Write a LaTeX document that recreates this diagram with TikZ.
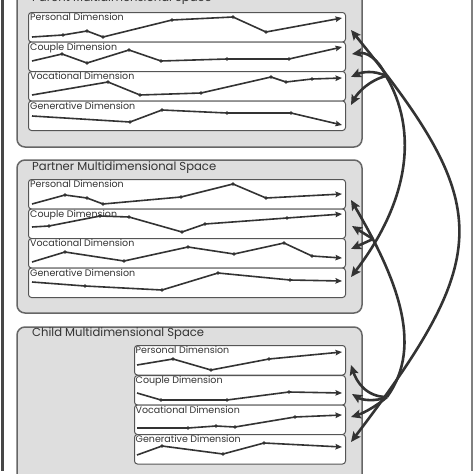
\documentclass[tikz,border=0pt]{standalone}
\usepackage{fontspec}
\setmainfont{Poppins}
\usetikzlibrary{arrows.meta}
\definecolor{ink}{HTML}{333333}
\definecolor{spacefill}{HTML}{DEDEDE}
\definecolor{spaceline}{HTML}{666666}
\definecolor{stripline}{HTML}{555555}
\tikzset{
  space/.style={draw=spaceline,fill=spacefill,line width=1.5pt,rounded corners=8pt},
  strip/.style={draw=stripline,fill=white,line width=1pt,rounded corners=3pt,
    minimum height=29.5pt,inner sep=0pt,anchor=north west},
  wide/.style={strip,minimum width=317pt},
  narrow/.style={strip,minimum width=211pt},
  dimlabel/.style={anchor=north west,inner sep=0pt,font=\fontsize{9.5}{10}\selectfont,text=ink},
  spacetitle/.style={anchor=west,inner sep=0pt,font=\fontsize{11.6}{12}\selectfont,text=ink},
  trend/.style={draw=ink,line width=1.6pt,line join=round,-{Stealth[length=6.5pt,width=5.5pt,inset=1pt]}},
  dot/.style={fill=ink},
  link/.style={draw=ink,line width=2.6pt},
  tip/.style={-{Stealth[length=10pt,width=9pt,inset=2pt]}},
  tips/.style={{Stealth[length=10pt,width=9pt,inset=2pt]}-{Stealth[length=10pt,width=9pt,inset=2pt]}},
}
\newcommand\putdots[1]{\foreach \p in {#1} {\fill[dot] \p circle (1.9pt);}}
\begin{document}
\begin{tikzpicture}[x=1pt,y=-1pt]
\useasboundingbox (0,0) rectangle (474,474);
\clip (0,0) rectangle (474,474);
% frame
\draw[draw=ink!90,line width=2.5pt] (2.5,0) -- (2.5,471);
\draw[draw=gray,line width=1.5pt] (472,0) -- (472,471);

% ---------------- Parent ----------------
\draw[space] (17,-20) rectangle (362,147);
\node[spacetitle] (ptitle) at (32,-1) {Parent Multidimensional Space};
\node[wide] (pp) at (28,12) {};
\node[wide] (pc) at (28,41.5) {};
\node[wide] (pv) at (28,71) {};
\node[wide] (pg) at (28,100.5) {};
\node[dimlabel] (ppl) at ([xshift=2pt,yshift=-1.2pt]pp.north west) {Personal Dimension};
\node[dimlabel] (pcl) at ([xshift=2pt,yshift=-1.2pt]pc.north west) {Couple Dimension};
\node[dimlabel] (pvl) at ([xshift=2pt,yshift=-1.2pt]pv.north west) {Vocational Dimension};
\node[dimlabel] (pgl) at ([xshift=2pt,yshift=-1.2pt]pg.north west) {Generative Dimension};
\draw[trend] (32,37)--(63,35)--(87,31)--(103,37)--(172,20)--(233,17)--(266,32)--(342,18);
\putdots{(63,35),(87,31),(103,37),(172,20),(233,17),(266,32)}
\draw[trend] (32,61)--(62,54)--(87,63)--(129,50)--(161,61)--(227,59)--(289,59)--(342,47);
\putdots{(62,54),(87,63),(129,50),(161,61),(227,59),(289,59)}
\draw[trend] (32,95)--(108,82)--(140,95)--(201,93)--(271,77)--(286,82)--(312,79)--(342,78);
\putdots{(108,82),(140,95),(201,93),(271,77),(286,82),(312,79)}
\draw[trend] (32,116)--(130,122)--(162,110)--(227,113)--(291,113)--(342,125);
\putdots{(130,122),(162,110),(227,113),(291,113)}

% ---------------- Partner ----------------
\draw[space] (17,160) rectangle (362,313);
\node[spacetitle] (qtitle) at (32,168) {Partner Multidimensional Space};
\node[wide] (qp) at (28,179) {};
\node[wide] (qc) at (28,208.5) {};
\node[wide] (qv) at (28,238) {};
\node[wide] (qg) at (28,267.5) {};
\node[dimlabel] (qpl) at ([xshift=2pt,yshift=-1.2pt]qp.north west) {Personal Dimension};
\node[dimlabel] (qcl) at ([xshift=2pt,yshift=-1.2pt]qc.north west) {Couple Dimension};
\node[dimlabel] (qvl) at ([xshift=2pt,yshift=-1.2pt]qv.north west) {Vocational Dimension};
\node[dimlabel] (qgl) at ([xshift=2pt,yshift=-1.2pt]qg.north west) {Generative Dimension};
\draw[trend] (32,204)--(65,195)--(87,198)--(103,204)--(181,197)--(233,184)--(266,198)--(342,194);
\putdots{(65,195),(87,198),(103,204),(181,197),(233,184),(266,198)}
\draw[trend] (32,227)--(49,226)--(100,216)--(129,217)--(182,232)--(205,224)--(287,218)--(342,214);
\putdots{(49,226),(100,216),(129,217),(182,232),(205,224),(287,218)}
\draw[trend] (32,262)--(65,252)--(124,261)--(188,247)--(234,254)--(284,243)--(312,256)--(342,258);
\putdots{(65,252),(124,261),(188,247),(234,254),(284,243),(312,256)}
\draw[trend] (32,282)--(85,286)--(162,290)--(218,273)--(290,280)--(342,281);
\putdots{(85,286),(162,290),(218,273),(290,280)}

% ---------------- Child ----------------
\draw[space] (17,327) rectangle (362,495);
\node[spacetitle] (ctitle) at (32,334) {Child Multidimensional Space};
\node[narrow] (cp) at (134,345) {};
\node[narrow] (cc) at (134,375) {};
\node[narrow] (cv) at (134,404.5) {};
\node[narrow] (cg) at (134,434) {};
\node[dimlabel] (cpl) at ([xshift=1.5pt,yshift=-1.2pt]cp.north west) {Personal Dimension};
\node[dimlabel] (ccl) at ([xshift=1.5pt,yshift=-1.2pt]cc.north west) {Couple Dimension};
\node[dimlabel] (cvl) at ([xshift=1.5pt,yshift=-1.2pt]cv.north west) {Vocational Dimension};
\node[dimlabel] (cgl) at ([xshift=1.5pt,yshift=-1.2pt]cg.north west) {Generative Dimension};
\draw[trend] (137,365)--(173,359)--(211,370)--(269,359)--(342,352);
\putdots{(173,359),(211,370),(269,359)}
\draw[trend] (137,393)--(161,400)--(227,400)--(289,392)--(342,393);
\putdots{(161,400),(227,400),(289,392)}
\draw[trend] (137,428)--(188,428)--(216,426)--(235,427)--(295,417)--(342,415);
\putdots{(188,428),(216,426),(235,427),(295,417)}
\draw[trend] (137,455)--(162,446)--(223,454)--(264,443)--(342,447);
\putdots{(162,446),(223,454),(264,443)}

% ---------------- connectors ----------------
\coordinate (P1) at (351,30);
\coordinate (P2) at (352,54);
\coordinate (P3) at (351,77);
\coordinate (P4) at (351,105);
\coordinate (H1) at (386,76);
\coordinate (Q1) at (351,200);
\coordinate (Q2) at (352,226);
\coordinate (Q3) at (351,249);
\coordinate (Q4) at (351,277);
\coordinate (H2) at (373,239);
\coordinate (C1) at (351,365);
\coordinate (C2) at (352,394);
\coordinate (C3) at (351,417);
\coordinate (C4) at (351,442);
\coordinate (H3) at (387,397);

% big arc parent personal <-> child generative
\draw[link,tips] (P1) .. controls (494,206) and (494,254) .. (C4);
% parent bundle
\draw[link,tip] (H1) .. controls (418,130) and (410,200) .. (Q4);
\draw[link,tip] (H1) .. controls (378,58) and (366,52) .. (P2);
\draw[link,tip] (H1) .. controls (374,70) and (362,72) .. (P3);
\draw[link,tip] (H1) .. controls (370,80) and (358,92) .. (P4);
% partner bundle
\draw[link,tip] (H3) .. controls (425,345) and (395,275) .. (Q1);
\draw[link,tip] (H2) -- (Q2);
\draw[link,tip] (H2) -- (Q3);
% child bundle
\draw[link,tip] (H3) .. controls (365,397) and (356,380) .. (C1);
\draw[link,tip] (H3) .. controls (375,402) and (362,400) .. (C2);
\draw[link,tip] (H3) .. controls (378,405) and (364,413) .. (C3);
\end{tikzpicture}
\end{document}
